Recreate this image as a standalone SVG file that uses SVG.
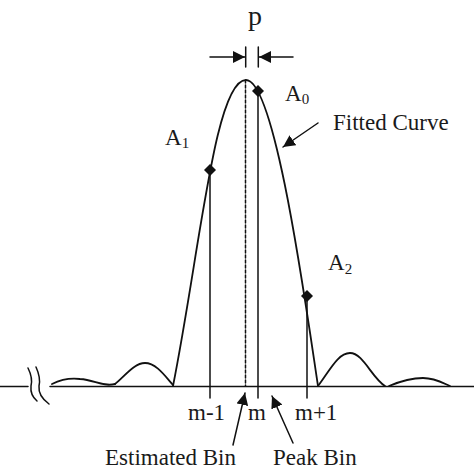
<svg xmlns="http://www.w3.org/2000/svg" width="474" height="474" viewBox="0 0 474 474">
<defs>
<style>
.ln{fill:none;stroke:#111;stroke-width:1.5;stroke-linecap:round;stroke-linejoin:round}
.cv{fill:none;stroke:#111;stroke-width:1.8;stroke-linecap:round;stroke-linejoin:round}
.t{font-family:"Liberation Serif","Times New Roman",serif;font-size:23px;fill:#1a1a1a}
.s{font-size:15px}
.big{font-size:28px}
.dot{fill:#111}
</style>
<marker id="ah" markerUnits="userSpaceOnUse" markerWidth="14" markerHeight="12" refX="12" refY="6" orient="auto">
<path d="M0,0 L12,6 L0,12 Z" fill="#111"/>
</marker>
</defs>
<rect width="474" height="474" fill="#fff"/>
<g id="axis">
<path class="ln" d="M0,386.5 H28 M50,386.5 H474"/>
<path class="ln" d="M28,368 Q33,378 31,386 Q30,395 37,401"/>
<path class="ln" d="M36,367 Q41,378 39,386 Q38,396 49,404"/>
</g>
<g id="sidelobes">
<path class="cv" d="M52,384 C62,379 72,378 80,379 C95,380 102,387 115,384"/>
<path class="cv" d="M115,384 C125,376 134,363 145,363 C156,363 165,376 173,385"/>
<path class="cv" d="M318,386 C330,370 338,353 350,353 C363,353 372,378 385,386"/>
<path class="cv" d="M389,386 C401,381 412,378 423,378 C435,378 443,383 450,386"/>
</g>
<g id="mainlobe">
<path class="cv" d="M173,386 C200,250 215,80 246,80 C275,80 305,300 318,386"/>
<path class="ln" d="M245.5,80 V386" stroke-dasharray="3,2"/>
</g>
<g id="bins">
<path class="ln" d="M210,170 V398"/>
<path class="ln" d="M258,91 V398"/>
<path class="ln" d="M307,296 V398"/>
</g>
<g id="points">
<path class="dot" d="M210,164 L216,170 L210,176 L204,170 Z"/>
<path class="dot" d="M258,85 L264,91 L258,97 L252,91 Z"/>
<path class="dot" d="M307,290 L313,296 L307,302 L301,296 Z"/>
</g>
<g id="p-marker">
<text class="t big" x="255" y="25" text-anchor="middle">p</text>
<path class="ln" d="M245.7,47 V67 M258.3,47 V67"/>
<path class="ln" d="M210,57 H245" marker-end="url(#ah)"/>
<path class="ln" d="M293,57 H259" marker-end="url(#ah)"/>
</g>
<g id="labels">
<text class="t" x="285" y="101">A<tspan class="s" dy="3">0</tspan></text>
<text class="t" x="165" y="145">A<tspan class="s" dy="3">1</tspan></text>
<text class="t" x="328" y="270">A<tspan class="s" dy="4">2</tspan></text>
<text class="t" x="333" y="130">Fitted Curve</text>
<text class="t" x="188" y="420">m-1</text>
<text class="t" x="248" y="420">m</text>
<text class="t" x="295" y="420">m+1</text>
<text class="t" x="105" y="465">Estimated Bin</text>
<text class="t" x="273" y="465">Peak Bin</text>
</g>
<g id="connectors">
<path class="ln" d="M318,123 L283,147" marker-end="url(#ah)"/>
<path class="ln" d="M233,445 L245,393" marker-end="url(#ah)"/>
<path class="ln" d="M293,443 L272,396" marker-end="url(#ah)"/>
</g>
</svg>
